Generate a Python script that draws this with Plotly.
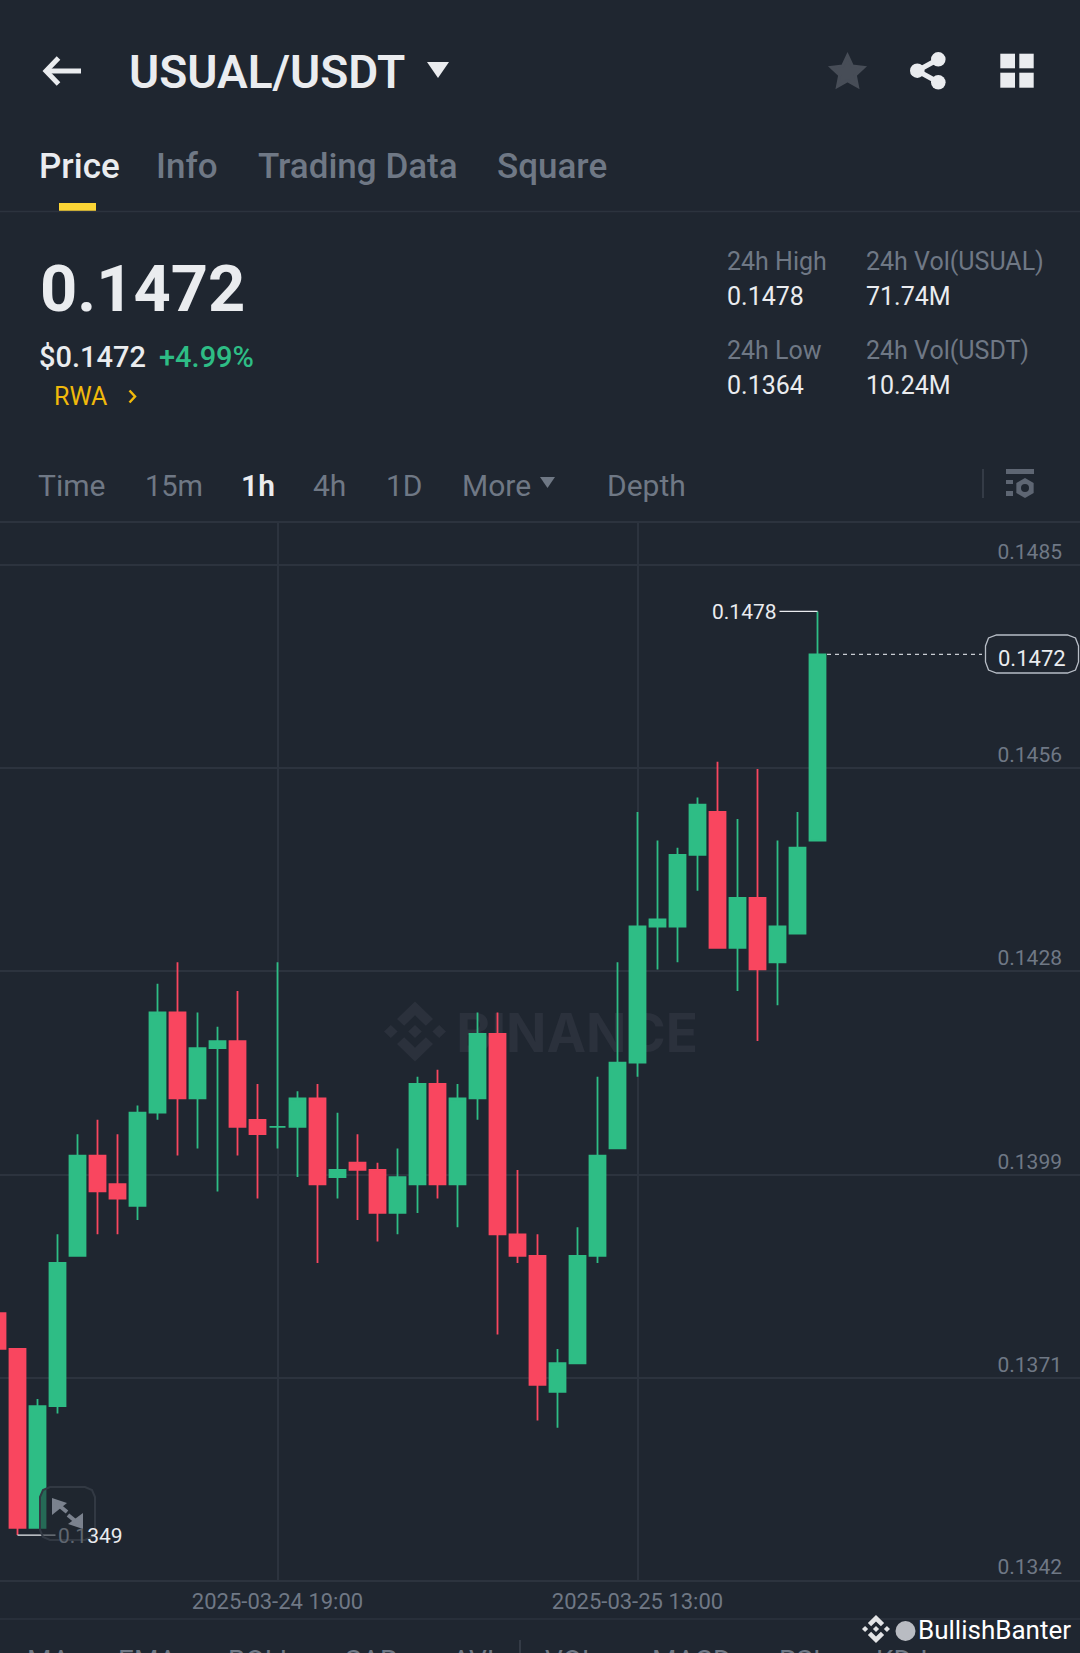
import math

import plotly.graph_objects as go

W, H = 1080, 1653
BG = "#1F2630"
GRID = "#2C333E"
GREEN = "#2EBD85"
RED = "#F9465F"
MUTED = "#6F7885"
LIGHT = "#EAECEF"
FONT = "Roboto"

# hourly candles, 2025-03-24 05:00 onwards
TIMES = [
    "2025-03-24 05:00", "2025-03-24 06:00", "2025-03-24 07:00", "2025-03-24 08:00",
    "2025-03-24 09:00", "2025-03-24 10:00", "2025-03-24 11:00", "2025-03-24 12:00",
    "2025-03-24 13:00", "2025-03-24 14:00", "2025-03-24 15:00", "2025-03-24 16:00",
    "2025-03-24 17:00", "2025-03-24 18:00", "2025-03-24 19:00", "2025-03-24 20:00",
    "2025-03-24 21:00", "2025-03-24 22:00", "2025-03-24 23:00", "2025-03-25 00:00",
    "2025-03-25 01:00", "2025-03-25 02:00", "2025-03-25 03:00", "2025-03-25 04:00",
    "2025-03-25 05:00", "2025-03-25 06:00", "2025-03-25 07:00", "2025-03-25 08:00",
    "2025-03-25 09:00", "2025-03-25 10:00", "2025-03-25 11:00", "2025-03-25 12:00",
    "2025-03-25 13:00", "2025-03-25 14:00", "2025-03-25 15:00", "2025-03-25 16:00",
    "2025-03-25 17:00", "2025-03-25 18:00", "2025-03-25 19:00", "2025-03-25 20:00",
    "2025-03-25 21:00", "2025-03-25 22:00",
]
OPENS = [
    0.1380, 0.1375, 0.1350, 0.1367, 0.1388, 0.1402, 0.1398, 0.1395, 0.1408, 0.1422, 0.1410,
    0.1417, 0.1418, 0.1407, 0.1406, 0.1406, 0.1410, 0.1399, 0.1401, 0.1400, 0.1394, 0.1398,
    0.1412, 0.1398, 0.1410, 0.1419, 0.1391, 0.1388, 0.1369, 0.1373, 0.1388, 0.1403, 0.1415,
    0.1434, 0.1434, 0.1444, 0.1450, 0.1431, 0.1438, 0.1429, 0.1433, 0.1446,
]
HIGHS = [
    0.1381, 0.1375, 0.1368, 0.1391, 0.1405, 0.1407, 0.1405, 0.1409, 0.1426, 0.1429, 0.1422,
    0.1420, 0.1425, 0.1412, 0.1429, 0.1411, 0.1412, 0.1408, 0.1405, 0.1401, 0.1403, 0.1413,
    0.1414, 0.1412, 0.1422, 0.1422, 0.1400, 0.1391, 0.1375, 0.1392, 0.1413, 0.1429, 0.1450,
    0.1446, 0.1445, 0.1452, 0.1457, 0.1449, 0.1456, 0.1446, 0.1450, 0.1478,
]
LOWS = [
    0.1374, 0.1349, 0.1350, 0.1366, 0.1388, 0.1391, 0.1391, 0.1393, 0.1407, 0.1402, 0.1403,
    0.1397, 0.1402, 0.1396, 0.1403, 0.1399, 0.1387, 0.1396, 0.1393, 0.1390, 0.1391, 0.1394,
    0.1396, 0.1392, 0.1407, 0.1377, 0.1387, 0.1365, 0.1364, 0.1373, 0.1387, 0.1403, 0.1413,
    0.1428, 0.1429, 0.1439, 0.1431, 0.1425, 0.1418, 0.1423, 0.1433, 0.1446,
]
CLOSES = [
    0.1375, 0.1350, 0.1367, 0.1387, 0.1402, 0.1397, 0.1396, 0.1408, 0.1422, 0.1410, 0.1417,
    0.1418, 0.1406, 0.1405, 0.1406, 0.1410, 0.1398, 0.1400, 0.1400, 0.1394, 0.1399, 0.1412,
    0.1398, 0.1410, 0.1419, 0.1391, 0.1388, 0.1370, 0.1373, 0.1388, 0.1402, 0.1415, 0.1434,
    0.1435, 0.1444, 0.1451, 0.1431, 0.1438, 0.1428, 0.1434, 0.1445, 0.1472,
]

Y_TICKS = [0.14845, 0.14562, 0.14278, 0.13993, 0.13710, 0.13428]
Y_LABELS = ["0.1485", "0.1456", "0.1428", "0.1399", "0.1371", "0.1342"]
X_TICKS = ["2025-03-24 19:00", "2025-03-25 13:00"]
X_RANGE = ["2025-03-24 05:07:30", "2025-03-26 11:07:30"]
Y_RANGE = [0.134273, 0.149035]

LAST_PRICE = 0.1472
HIGH_PRICE = 0.1478
HIGH_TIME = "2025-03-25 22:00"
LOW_PRICE = 0.1349
LOW_TIME = "2025-03-24 06:00"


def X(px):
    return px / W


def Y(py):
    return 1 - py / H


def path(*subpaths, close=True):
    out = []
    for pts in subpaths:
        out.append("M" + " L".join(f"{X(x):.5f},{Y(y):.5f}" for x, y in pts) + (" Z" if close else ""))
    return " ".join(out)


fig = go.Figure(
    go.Candlestick(
        x=TIMES,
        open=OPENS,
        high=HIGHS,
        low=LOWS,
        close=CLOSES,
        whiskerwidth=0,
        increasing=dict(line=dict(color=GREEN, width=1.8), fillcolor=GREEN),
        decreasing=dict(line=dict(color=RED, width=1.8), fillcolor=RED),
    )
)

fig.update_layout(
    width=W,
    height=H,
    margin=dict(l=0, r=0, t=0, b=0),
    paper_bgcolor=BG,
    plot_bgcolor=BG,
    showlegend=False,
    boxgap=0.2,
    boxgroupgap=0,
    font=dict(family=FONT),
    xaxis=dict(
        type="date",
        range=X_RANGE,
        rangeslider=dict(visible=False),
        tickvals=X_TICKS,
        tickformat="%Y-%m-%d %H:%M",
        tickfont=dict(size=22, color=MUTED),
        gridcolor=GRID,
        gridwidth=1.5,
        showline=True,
        linecolor=GRID,
        linewidth=1.5,
        mirror=True,
        zeroline=False,
        ticks="",
        ticklabelstandoff=1,
    ),
    yaxis=dict(
        domain=[1 - 1580 / H, 1 - 523 / H],
        range=Y_RANGE,
        side="right",
        tickvals=Y_TICKS,
        ticktext=Y_LABELS,
        tickfont=dict(size=21, color=MUTED),
        ticklabelposition="inside",
        ticklabelshift=-13,
        ticklabelstandoff=15,
        gridcolor=GRID,
        gridwidth=1.5,
        zeroline=False,
        ticks="",
    ),
)


def text(x, y, s, size, color=LIGHT, weight=400, anchor="left"):
    fig.add_annotation(
        x=X(x), y=Y(y), xref="paper", yref="paper", text=s, showarrow=False,
        xanchor=anchor, yanchor="middle", borderpad=0,
        font=dict(family=FONT, size=size, color=color, weight=weight),
    )


def poly(pts, color, layer="above", **line):
    fig.add_shape(
        type="path", path=path(pts), xref="paper", yref="paper", layer=layer,
        fillcolor=color, line=dict(width=line.get("width", 0), color=color),
    )


def stroke(pts, color, width):
    fig.add_shape(
        type="path", path=path(pts, close=False), xref="paper", yref="paper",
        line=dict(color=color, width=width),
    )


def circle(cx, cy, r, color):
    fig.add_shape(
        type="circle", xref="paper", yref="paper", x0=X(cx - r), x1=X(cx + r), y0=Y(cy + r), y1=Y(cy - r),
        fillcolor=color, line_width=0,
    )


def hline(y, x0=0, x1=W, color=GRID, width=1.5):
    fig.add_shape(
        type="line", xref="paper", yref="paper", x0=X(x0), x1=X(x1), y0=Y(y), y1=Y(y),
        line=dict(color=color, width=width),
    )


def binance_logo(cx, cy, rx, ry, color, layer="above"):
    def at(pts):
        return [(cx + a * rx, cy + b * ry) for a, b in pts]

    top = [(0, -1), (0.58, -0.42), (0.35, -0.19), (0, -0.54), (-0.35, -0.19), (-0.58, -0.42)]
    bottom = [(a, -b) for a, b in top]
    diamond = [(0, -0.22), (0.22, 0), (0, 0.22), (-0.22, 0)]
    for part in (top, bottom, diamond, [(a - 0.78, b) for a, b in diamond], [(a + 0.78, b) for a, b in diamond]):
        poly(at(part), color, layer=layer)


def rounded(x0, x1, y0, y1, r):
    return path([
        (x0 + r, y0), (x1 - r, y0), (x1 - 3, y0 + 3), (x1, y0 + r), (x1, y1 - r), (x1 - 3, y1 - 3), (x1 - r, y1),
        (x0 + r, y1), (x0 + 3, y1 - 3), (x0, y1 - r), (x0, y0 + r), (x0 + 3, y0 + 3),
    ])


# watermark, under the candles
binance_logo(415, 1031.5, 31, 30, "#2B313C", layer="below")
fig.add_shape(
    type="rect", xref="paper", yref="paper", x0=X(458), x1=X(696), y0=Y(1050), y1=Y(1012),
    layer="below", line_width=0, fillcolor="rgba(0,0,0,0)",
    label=dict(text="<b>BINANCE</b>", textposition="middle center", font=dict(family="Inter", size=53, color="#2B313C")),
)

# header
stroke([(58.5, 58), (46, 71), (58.5, 84)], LIGHT, 5)
stroke([(47, 71), (81, 71)], LIGHT, 5)
text(128, 72, "USUAL/USDT", 46, LIGHT, 600)
poly([(427, 62), (449, 62), (438, 78)], LIGHT)
star = []
for i in range(10):
    r = 17 if i % 2 == 0 else 8.2
    a = -math.pi / 2 + i * math.pi / 5
    star.append((847.5 + r * math.cos(a), 72.5 + r * math.sin(a)))
poly(star, "#474D57", width=3)
stroke([(938.3, 59.3), (917.3, 70.7), (938.3, 82.3)], LIGHT, 5)
circle(938.3, 59.3, 7.3, LIGHT)
circle(917.3, 70.7, 7.3, LIGHT)
circle(938.3, 82.3, 7.3, LIGHT)
for x0, x1 in ((1000.3, 1015), (1019.3, 1033.7)):
    for y0, y1 in ((53.7, 68.3), (72.7, 87.7)):
        poly([(x0, y0), (x1, y0), (x1, y1), (x0, y1)], LIGHT)

# tabs
text(38, 166, "Price", 35, LIGHT, 500)
text(155, 166, "Info", 35, MUTED, 500)
text(257, 166, "Trading Data", 35, MUTED, 500)
text(496, 166, "Square", 35, MUTED, 500)
poly([(59, 203), (96, 203), (96, 211), (59, 211)], "#FCD535")
hline(211.5)

# price block
text(39, 289, "0.1472", 65, LIGHT, 700)
text(38, 357, "$0.1472", 29, LIGHT, 500)
text(158, 357, "+4.99%", 29, GREEN, 500)
text(53, 396, "RWA", 25, "#F0B90B")
stroke([(129.5, 390.5), (135, 396.5), (129.5, 402.5)], "#F0B90B", 2.5)

for x, top, val in ((725.5, "24h High", "0.1478"), (865, "24h Vol(USUAL)", "71.74M")):
    text(x, 261, top, 25, MUTED)
    text(x, 296, val, 25, LIGHT)
for x, top, val in ((725.5, "24h Low", "0.1364"), (865, "24h Vol(USDT)", "10.24M")):
    text(x, 350, top, 25, MUTED)
    text(x, 385, val, 25, LIGHT)

# interval row
text(37, 486, "Time", 30, MUTED)
text(144, 486, "15m", 29, MUTED)
text(240, 486, "1h", 30, LIGHT, 600)
text(312, 486, "4h", 30, MUTED)
text(384.5, 486, "1D", 30, MUTED)
text(460.5, 486, "More", 30, MUTED)
poly([(540, 477), (555, 477), (547.5, 488)], MUTED)
text(606, 486, "Depth", 30, MUTED)
stroke([(983, 469), (983, 498)], "#343B46", 2)
for x0, x1, y0, y1 in ((1006, 1034, 469, 474), (1006, 1013, 480, 484), (1006, 1013, 491, 496)):
    poly([(x0, y0), (x1, y0), (x1, y1), (x0, y1)], "#5E6673")
hexagon = [(1025 + 10 * math.sin(i * math.pi / 3), 488 + 10 * math.cos(i * math.pi / 3)) for i in range(6)]
poly(hexagon, "#5E6673")
circle(1025, 488, 4, BG)

# high / low / last price markers
fig.add_shape(
    type="line", xref="x", yref="y", xsizemode="pixel", xanchor=HIGH_TIME,
    x0=-38, x1=0, y0=HIGH_PRICE, y1=HIGH_PRICE, line=dict(color=LIGHT, width=1.2),
)
fig.add_annotation(
    x=HIGH_TIME, y=HIGH_PRICE, text=f"{HIGH_PRICE:.4f}", showarrow=False, xanchor="right", xshift=-39, yshift=-1,
    font=dict(family=FONT, size=21, color=LIGHT),
)
fig.add_shape(
    type="line", xref="x", yref="y", xsizemode="pixel", xanchor=LOW_TIME,
    x0=0, x1=38, y0=LOW_PRICE, y1=LOW_PRICE, line=dict(color=LIGHT, width=1.2),
)
# first digits sit behind the expand button
low_label = f"{LOW_PRICE:.4f}"
fig.add_annotation(
    x=LOW_TIME, y=LOW_PRICE, showarrow=False, xanchor="left", xshift=38, yshift=-1,
    text=f'<span style="color:#5F6670">{low_label[:3]}</span>{low_label[3:]}',
    font=dict(family=FONT, size=21, color=LIGHT),
)
fig.add_shape(
    type="line", xref="paper", yref="y", x0=X(827), x1=X(982), y0=LAST_PRICE, y1=LAST_PRICE,
    line=dict(color="#C9CDD3", width=1.3, dash="4px,4px"),
)
fig.add_shape(
    type="path", xref="paper", yref="paper", line=dict(color="#B7BDC6", width=1.3),
    path=rounded(985.5, 1078.5, 635, 673, 11),
)
text(1032, 658, f"{LAST_PRICE:.4f}", 22, LIGHT, anchor="center")

# expand button over the chart
fig.add_shape(
    type="path", xref="paper", yref="paper", fillcolor="rgba(31,38,48,0.55)", line=dict(color="#323943", width=2),
    path=rounded(40, 95, 1487, 1540, 10),
)
poly([(52, 1498), (67, 1503), (52, 1515)], "#7B828E")
stroke([(56, 1503), (67, 1512)], "#7B828E", 4)
poly([(83, 1529), (68, 1524), (83, 1513)], "#7B828E")
stroke([(79, 1524), (68, 1515)], "#7B828E", 4)

# footer
hline(1619)
binance_logo(876, 1629, 14, 14, "#E3E4E6")
circle(905.5, 1631, 10, "#B9BCC2")
text(917, 1630, "BullishBanter", 26, "#FFFFFF")
for x, s in ((26, "MA"), (117, "EMA"), (227, "BOLL"), (344, "SAR"), (451, "AVL"), (544, "VOL"), (651, "MACD"), (778, "RSI"), (875, "KDJ")):
    text(x, 1660, s, 28, MUTED)
stroke([(520, 1640), (520, 1653)], "#343B46", 2)

fig.write_html(
    "out.html",
    config={"displayModeBar": False},
    post_script="document.body.style.margin='0';document.body.style.background='" + BG + "';",
)
